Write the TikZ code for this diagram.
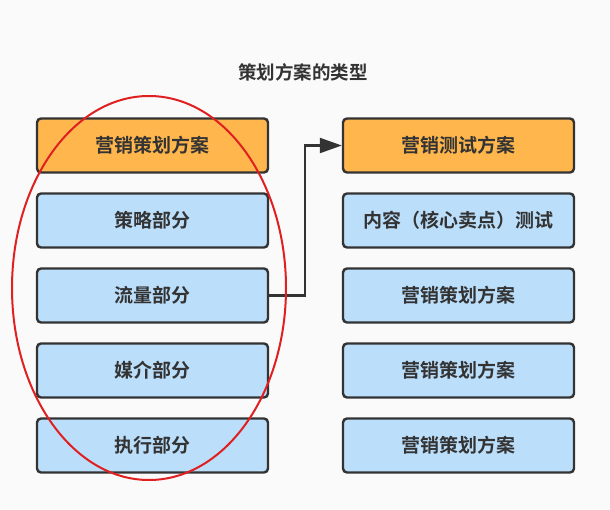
\documentclass[tikz,border=0pt]{standalone}
\usepackage{fontspec}
\setmainfont{Noto Sans CJK SC}[BoldFont={* Bold}]
\newfontfamily\cjkb{Noto Sans CJK SC Bold}
\usetikzlibrary{arrows.meta}
\definecolor{bgc}{HTML}{FAFAFB}
\definecolor{orangebox}{HTML}{FFB74D}
\definecolor{bluebox}{HTML}{BBDEFB}
\definecolor{edgec}{HTML}{333333}
\definecolor{redc}{HTML}{E02020}
\tikzset{
  boxbase/.style={draw=edgec, line width=2.4pt, rounded corners=4pt, minimum width=231pt, minimum height=54pt, inner sep=0pt, font=\cjkb\fontsize{19}{22}\selectfont, text=edgec},
  obox/.style={boxbase, fill=orangebox},
  bbox/.style={boxbase, fill=bluebox},
  conn/.style={draw=edgec, line width=2.2pt, -{Triangle[length=22pt,width=15pt]}},
}
\begin{document}
\begin{tikzpicture}[x=1pt,y=-1pt]
\fill[bgc] (0,0) rectangle (610,510);
\useasboundingbox (0,0) rectangle (610,510);
\node[font=\cjkb\fontsize{18.5}{22}\selectfont, text=edgec] (title) at (303,72) {策划方案的类型};
\node[obox] (l1) at (152.5,145.5) {营销策划方案};
\node[bbox] (l2) at (152.5,220.5) {策略部分};
\node[bbox] (l3) at (152.5,295.5) {流量部分};
\node[bbox] (l4) at (152.5,370.5) {媒介部分};
\node[bbox] (l5) at (152.5,445.5) {执行部分};
\node[obox] (r1) at (458.5,145.5) {营销测试方案};
\node[bbox] (r2) at (458.5,220.5) {内容（核心卖点）测试};
\node[bbox] (r3) at (458.5,295.5) {营销策划方案};
\node[bbox] (r4) at (458.5,370.5) {营销策划方案};
\node[bbox] (r5) at (458.5,445.5) {营销策划方案};
\coordinate (bend) at (305,0);
\draw[conn] (l3.east) -- (bend |- l3.east) -- (bend |- r1.west) -- (r1.west);
\draw[redc, line width=2pt] (149,288) ellipse [x radius=137, y radius=192];
\end{tikzpicture}
\end{document}
